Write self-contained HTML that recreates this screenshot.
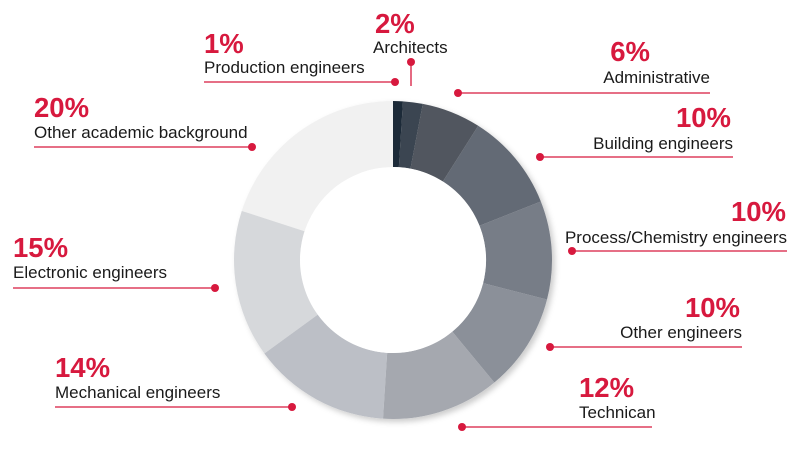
<!DOCTYPE html>
<html><head><meta charset="utf-8"><style>
body{margin:0;background:#fff;}
svg{display:block;font-family:"Liberation Sans",sans-serif;}
.p{fill:#d7193e;font-weight:bold;font-size:27.5px;}
.l{fill:#1a1a1a;font-size:17px;}
.ln{stroke:#d7193e;stroke-width:1.3;fill:none;}
.d{fill:#d7193e;}
</style></head><body>
<svg width="800" height="449" viewBox="0 0 800 449">
<defs><filter id="sh" x="-10%" y="-10%" width="130%" height="130%"><feDropShadow dx="3" dy="3" stdDeviation="3" flood-color="#000" flood-opacity="0.2"/></filter></defs>
<g id="donut" filter="url(#sh)"></g>
<circle cx="393" cy="260" r="93" fill="#fff"/>
<text class="p" x="204" y="53">1%</text><text class="l" x="204" y="73">Production engineers</text>
<line class="ln" x1="204" y1="82" x2="395" y2="82"/><circle class="d" cx="395" cy="82" r="4"/>
<text class="p" x="375" y="33">2%</text><text class="l" x="373" y="53">Architects</text>
<line class="ln" x1="411" y1="62" x2="411" y2="86"/><circle class="d" cx="411" cy="62" r="4"/>
<text class="p" x="650" y="61" text-anchor="end">6%</text><text class="l" x="710" y="83" text-anchor="end">Administrative</text>
<line class="ln" x1="458" y1="93" x2="710" y2="93"/><circle class="d" cx="458" cy="93" r="4"/>
<text class="p" x="731" y="127" text-anchor="end">10%</text><text class="l" x="733" y="149" text-anchor="end">Building engineers</text>
<line class="ln" x1="540" y1="157" x2="733" y2="157"/><circle class="d" cx="540" cy="157" r="4"/>
<text class="p" x="786" y="221" text-anchor="end">10%</text><text class="l" x="787" y="243" text-anchor="end">Process/Chemistry engineers</text>
<line class="ln" x1="572" y1="251" x2="787" y2="251"/><circle class="d" cx="572" cy="251" r="4"/>
<text class="p" x="740" y="317" text-anchor="end">10%</text><text class="l" x="742" y="338" text-anchor="end">Other engineers</text>
<line class="ln" x1="550" y1="347" x2="742" y2="347"/><circle class="d" cx="550" cy="347" r="4"/>
<text class="p" x="579" y="397">12%</text><text class="l" x="579" y="418">Technican</text>
<line class="ln" x1="462" y1="427" x2="652" y2="427"/><circle class="d" cx="462" cy="427" r="4"/>
<text class="p" x="55" y="377">14%</text><text class="l" x="55" y="398">Mechanical engineers</text>
<line class="ln" x1="55" y1="407" x2="292" y2="407"/><circle class="d" cx="292" cy="407" r="4"/>
<text class="p" x="13" y="257">15%</text><text class="l" x="13" y="278">Electronic engineers</text>
<line class="ln" x1="13" y1="288" x2="215" y2="288"/><circle class="d" cx="215" cy="288" r="4"/>
<text class="p" x="34" y="117">20%</text><text class="l" x="34" y="138">Other academic background</text>
<line class="ln" x1="34" y1="147" x2="252" y2="147"/><circle class="d" cx="252" cy="147" r="4"/>
</svg>
<script>
var vals=[1,2,6,10,10,10,12,14,15,20];
var cols=["#1f2b37","#3b4551","#51575f","#646a74","#777d87","#8b9099","#a5a8af","#bcbfc6","#d6d8db","#f1f1f1"];
var cx=393,cy=260,R=159,r=93,a=0,g=document.getElementById("donut"),s="";
function pt(rad,ang){var t=ang/100*2*Math.PI;return [cx+rad*Math.sin(t),cy-rad*Math.cos(t)];}
for(var i=0;i<vals.length;i++){var b=a+vals[i];var p1=pt(R,a),p2=pt(R,b),p3=pt(r,b),p4=pt(r,a);var lg=vals[i]>50?1:0;
s+='<path fill="'+cols[i]+'" d="M'+p1+' A'+R+' '+R+' 0 '+lg+' 1 '+p2+' L'+p3+' A'+r+' '+r+' 0 '+lg+' 0 '+p4+' Z"/>';a=b;}
g.innerHTML=s;
</script>
</body></html>
